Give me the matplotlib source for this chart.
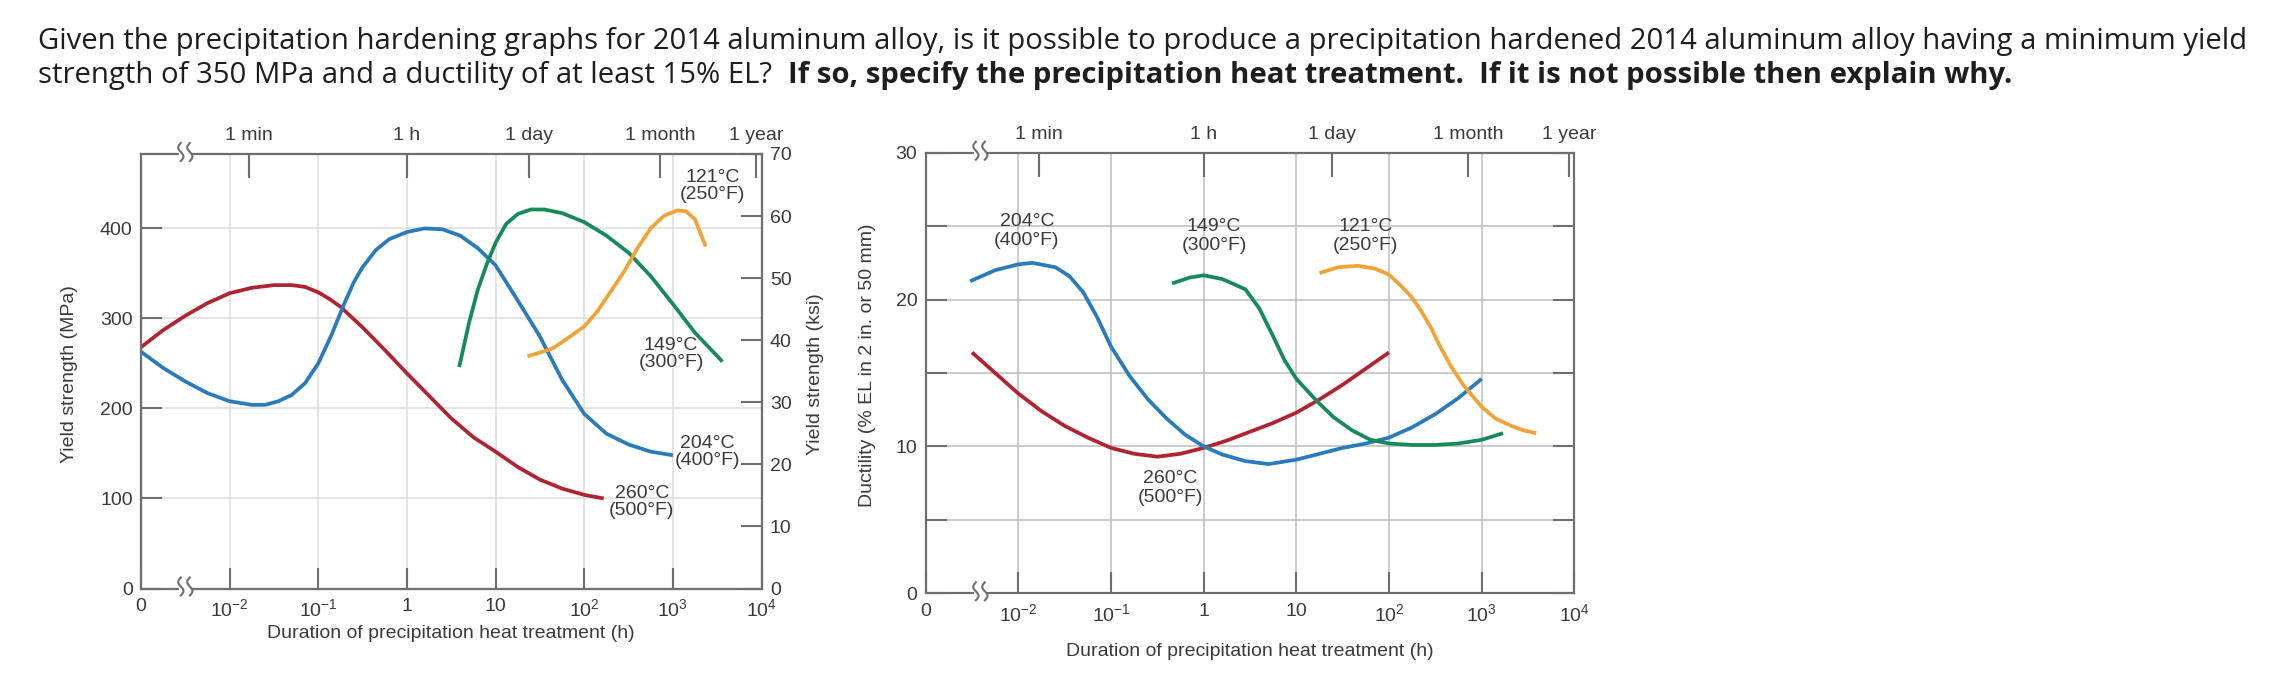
import matplotlib

matplotlib.use("Agg")
import matplotlib.pyplot as plt
import numpy as np
from matplotlib.lines import Line2D
from matplotlib.ticker import NullLocator
from matplotlib.transforms import IdentityTransform, blended_transform_factory

W, H = 2269, 691

plt.rcParams["font.family"] = ["Liberation Sans", "DejaVu Sans"]
plt.rcParams["mathtext.fontset"] = "custom"
plt.rcParams["mathtext.rm"] = "Liberation Sans"
plt.rcParams["mathtext.it"] = "Liberation Sans:italic"
plt.rcParams["mathtext.bf"] = "Liberation Sans:bold"

QUESTION_1 = ("Given the precipitation hardening graphs for 2014 aluminum alloy, is it possible to produce "
              "a precipitation hardened 2014 aluminum alloy having a minimum yield")
QUESTION_2 = "strength of 350 MPa and a ductility of at least 15% EL?"
QUESTION_3 = "If so, specify the precipitation heat treatment.  If it is not possible then explain why."

RED = "#b02432"     # 260 C
BLUE = "#2a7bbb"    # 204 C
GREEN = "#178a5c"   # 149 C
ORANGE = "#f0a336"  # 121 C
SPINE = "#6e6e6e"
TXT = "#3a3a3a"

# x axis: hours, log scale; "0" sits at the left end (1e-3 h)
X_TICKS = [1e-3, 1e-2, 1e-1, 1, 10, 1e2, 1e3, 1e4]
X_LABELS = ["0", r"$\mathregular{10^{-2}}$", r"$\mathregular{10^{-1}}$", "1", "10",
            r"$\mathregular{10^{2}}$", r"$\mathregular{10^{3}}$", r"$\mathregular{10^{4}}$"]
TOP_TICKS = [1 / 60, 1, 24, 720, 8760]
TOP_LABELS = ["1 min", "1 h", "1 day", "1 month", "1 year"]

# ---- yield strength (MPa) vs log10(hours) ----
ys260_logh = [-3.0, -2.75, -2.5, -2.25, -2.0, -1.75, -1.5, -1.3, -1.15, -1.0, -0.88, -0.75, -0.5,
              -0.25, 0.0, 0.25, 0.5, 0.75, 1.0, 1.25, 1.5, 1.75, 2.0, 2.22]
ys260_mpa = [268, 287, 303, 317, 328, 334, 337, 337, 335, 329, 322, 313, 290,
             265, 239, 214, 189, 168, 152, 135, 121, 111, 104, 100]

ys204_logh = [-3.0, -2.75, -2.5, -2.25, -2.0, -1.75, -1.6, -1.45, -1.3, -1.15, -1.0, -0.85, -0.7,
              -0.6, -0.5, -0.35, -0.2, 0.0, 0.2, 0.4, 0.6, 0.8, 1.0, 1.25, 1.5, 1.75, 2.0,
              2.25, 2.5, 2.75, 3.0]
ys204_mpa = [263, 245, 230, 217, 208, 204, 204, 208, 215, 228, 250, 282, 318,
             340, 357, 376, 388, 396, 400, 399, 392, 378, 359, 320, 280, 232, 194,
             172, 160, 152, 148]

ys149_logh = [0.59, 0.7, 0.8, 0.9, 1.0, 1.12, 1.25, 1.4, 1.55, 1.75, 2.0, 2.25, 2.5, 2.75,
              3.0, 3.25, 3.56]
ys149_mpa = [246, 295, 332, 360, 384, 405, 416, 421, 421, 417, 407, 392, 373, 347,
             316, 284, 252]

ys121_logh = [1.36, 1.5, 1.65, 1.8, 2.0, 2.15, 2.3, 2.45, 2.6, 2.75, 2.9, 3.05, 3.15, 3.25, 3.37]
ys121_mpa = [258, 262, 267, 277, 291, 308, 330, 352, 378, 400, 414, 420, 419, 410, 380]

# ---- ductility (%EL) vs log10(hours) ----
el204_logh = [-2.52, -2.25, -2.0, -1.85, -1.6, -1.45, -1.3, -1.15, -1.0, -0.8, -0.6, -0.4, -0.2,
              0.0, 0.2, 0.45, 0.7, 1.0, 1.25, 1.5, 1.75, 2.0, 2.25, 2.5, 2.75, 3.0]
el204_pct = [21.25, 22.0, 22.4, 22.5, 22.2, 21.6, 20.5, 18.8, 16.8, 14.8, 13.2, 11.9, 10.8,
             10.0, 9.45, 9.0, 8.8, 9.1, 9.5, 9.9, 10.2, 10.6, 11.3, 12.2, 13.3, 14.6]

el260_logh = [-2.5, -2.25, -2.0, -1.75, -1.5, -1.25, -1.0, -0.75, -0.5, -0.25, 0.0, 0.25, 0.5,
              0.75, 1.0, 1.25, 1.5, 1.75, 2.0]
el260_pct = [16.4, 15.0, 13.6, 12.4, 11.4, 10.6, 9.9, 9.5, 9.3, 9.5, 9.9, 10.4, 11.0,
             11.6, 12.3, 13.2, 14.2, 15.3, 16.4]

el149_logh = [-0.34, -0.15, 0.0, 0.2, 0.45, 0.6, 0.75, 0.87, 1.0, 1.22, 1.4, 1.6, 1.8, 2.0,
              2.25, 2.5, 2.75, 3.0, 3.23]
el149_pct = [21.1, 21.5, 21.65, 21.4, 20.7, 19.4, 17.5, 15.9, 14.6, 13.1, 12.0, 11.1, 10.45, 10.2,
             10.1, 10.1, 10.2, 10.45, 10.9]

el121_logh = [1.25, 1.45, 1.67, 1.85, 2.0, 2.12, 2.24, 2.35, 2.46, 2.56, 2.67, 2.8, 3.0, 3.15,
              3.32, 3.45, 3.59]
el121_pct = [21.8, 22.2, 22.3, 22.1, 21.7, 21.0, 20.2, 19.2, 18.0, 16.7, 15.45, 14.2, 12.7, 11.9,
             11.4, 11.1, 10.9]

MPA_PER_KSI = 6.894757


def px_rect(x0, y0, x1, y1):
    return [x0 / W, 1 - y1 / H, (x1 - x0) / W, (y1 - y0) / H]


def style(ax, grid_color):
    for s in ax.spines.values():
        s.set_color(SPINE)
        s.set_linewidth(1.5)
    ax.set_xscale("log")
    ax.set_xlim(1e-3, 1e4)
    ax.xaxis.set_minor_locator(NullLocator())
    ax.set_xticks(X_TICKS)
    ax.set_xticklabels(X_LABELS)
    ax.tick_params(direction="in", length=15, width=1.5, color=SPINE, labelsize=14,
                   labelcolor=TXT, pad=6)
    ax.tick_params(axis="x", pad=7)
    ax.grid(True, color=grid_color, lw=1.1)
    ax.set_axisbelow(True)


def top_axis(ax):
    top = ax.twiny()
    top.set_xscale("log")
    top.set_xlim(1e-3, 1e4)
    top.xaxis.set_minor_locator(NullLocator())
    top.set_xticks(TOP_TICKS)
    top.set_xticklabels(TOP_LABELS)
    top.tick_params(direction="in", length=17, width=1.5, color=SPINE, labelsize=14,
                    labelcolor=TXT, pad=7)
    for s in top.spines.values():
        s.set_color(SPINE)
        s.set_linewidth(1.5)
    return top


def axis_break(fig, ax, logx):
    # two small S-shaped marks crossing the top and bottom spines
    tr = blended_transform_factory(ax.transData, ax.transAxes)
    s = np.linspace(-1, 1, 40)
    for yax in (0, 1):
        px, py = tr.transform((10 ** logx, yax))
        fig.add_artist(Line2D([px - 4, px + 4], [py, py], color="white", lw=3,
                              transform=IdentityTransform()))
        for off in (-4.5, 4.5):
            fig.add_artist(Line2D(px + off + 2.6 * np.sin(np.pi * s), py + 2 - 9 * s,
                                  color=SPINE, lw=1.5, transform=IdentityTransform()))


fig = plt.figure(figsize=(W / 100, H / 100), dpi=100)
line_kw = dict(lw=2.7, solid_capstyle="butt", solid_joinstyle="round", zorder=3)

# ================= left: yield strength =================
axL = fig.add_axes(px_rect(141, 154, 761.5, 588.5))
style(axL, "#dcdcdc")
axL.set_ylim(0, 70 * MPA_PER_KSI)
axL.set_yticks([0, 100, 200, 300, 400])
for lx, ly, c in [(ys260_logh, ys260_mpa, RED), (ys204_logh, ys204_mpa, BLUE),
                  (ys149_logh, ys149_mpa, GREEN), (ys121_logh, ys121_mpa, ORANGE)]:
    axL.plot(10 ** np.array(lx), ly, color=c, **line_kw)

ksi = axL.twinx()
ksi.set_ylim(0, 70)
ksi.set_yticks(range(0, 71, 10))
ksi.tick_params(direction="in", length=15, width=1.5, color=SPINE, labelsize=14,
                labelcolor=TXT, pad=6)
for s in ksi.spines.values():
    s.set_color(SPINE)
    s.set_linewidth(1.5)
top_axis(axL)

lab_kw = dict(fontsize=14, color=TXT, ha="center", va="center", linespacing=1.0, zorder=4)
axL.text(10 ** 3.45, 447, "121°C\n(250°F)", **lab_kw)
axL.text(10 ** 2.98, 261, "149°C\n(300°F)", **lab_kw)
axL.text(10 ** 3.39, 152, "204°C\n(400°F)", **lab_kw)
axL.text(10 ** 2.65, 96, "260°C\n(500°F)", **lab_kw)

fig.text(69 / W, 1 - 374 / H, "Yield strength (MPa)", rotation=90, fontsize=14, color=TXT,
         ha="center", va="center")
fig.text(816 / W, 1 - 374 / H, "Yield strength (ksi)", rotation=90, fontsize=14, color=TXT,
         ha="center", va="center")
fig.text(451 / W, 1 - 633 / H, "Duration of precipitation heat treatment (h)", fontsize=14,
         color=TXT, ha="center", va="center")

# ================= right: ductility =================
axR = fig.add_axes(px_rect(925.7, 152.7, 1574.3, 593.3))
style(axR, "#bdbdbd")
axR.set_ylim(0, 30)
axR.set_yticks(range(0, 31, 5))
axR.set_yticklabels(["0", "", "10", "", "20", "", "30"])
axR.tick_params(axis="y", right=True, labelright=False)
for lx, ly, c in [(el260_logh, el260_pct, RED), (el204_logh, el204_pct, BLUE),
                  (el149_logh, el149_pct, GREEN), (el121_logh, el121_pct, ORANGE)]:
    axR.plot(10 ** np.array(lx), ly, color=c, **line_kw)
top_axis(axR)

lab_kw["linespacing"] = 1.15
axR.text(10 ** -1.907, 24.7, "204°C\n(400°F)", **lab_kw)
axR.text(10 ** 0.111, 24.3, "149°C\n(300°F)", **lab_kw)
axR.text(10 ** 1.751, 24.3, "121°C\n(250°F)", **lab_kw)
axR.text(10 ** -0.363, 7.2, "260°C\n(500°F)", **lab_kw)

fig.text(867 / W, 1 - 365 / H, "Ductility (% EL in 2 in. or 50 mm)", rotation=90, fontsize=14,
         color=TXT, ha="center", va="center")
fig.text(1250 / W, 1 - 651 / H, "Duration of precipitation heat treatment (h)", fontsize=14,
         color=TXT, ha="center", va="center")

axis_break(fig, axL, -2.5)
axis_break(fig, axR, -2.41)

# ================= question text =================
renderer = fig.canvas.get_renderer()
q_kw = dict(family=["Open Sans", "DejaVu Sans"], color="#1e1e1e", va="baseline", ha="left")
t1 = fig.text(38 / W, 1 - 49 / H, QUESTION_1, fontsize=18, **q_kw)
fs = 18 * 2205 / t1.get_window_extent(renderer).width
t1.set_fontsize(fs)
t2 = fig.text(38 / W, 1 - 83 / H, QUESTION_2, fontsize=fs, **q_kw)
x_end = t2.get_window_extent(renderer).x1
fig.text((x_end + 16) / W, 1 - 83 / H, QUESTION_3, fontsize=fs, fontweight="bold", **q_kw)

fig.savefig("out.png", dpi=100)
